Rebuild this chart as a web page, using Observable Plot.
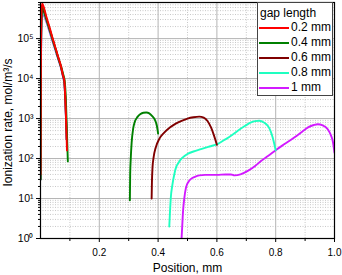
<!DOCTYPE html>
<html>
<head>
<meta charset="utf-8">
<script src="https://cdn.jsdelivr.net/npm/d3@7"></script>
<script src="https://cdn.jsdelivr.net/npm/@observablehq/plot@0.6"></script>
<style>
  html, body { margin: 0; padding: 0; background: white; }
  #wrap { position: relative; width: 342px; height: 275px; font-family: "Liberation Sans", Arial, sans-serif; }
  #legend { position: absolute; left: 257px; top: 2px; width: 76px; height: 94px; border: 1px solid #444; background: white; box-sizing: border-box; font-size: 12px; }
  #legend .title { position: absolute; left: 2px; top: 3px; }
  #legend .row { position: absolute; left: 0; height: 14px; }
  #legend .sw { position: absolute; left: 1px; top: 7px; width: 30px; height: 2px; }
  #legend .lb { position: absolute; left: 33px; top: 0; white-space: nowrap; }
</style>
</head>
<body>
<div id="wrap"><div id="legend"></div></div>
<script>
// ---- data ----
const gapLabels = ["0.2 mm", "0.4 mm", "0.6 mm", "0.8 mm", "1 mm"];
const gapColors = ["#ff0000", "#008000", "#800000", "#1effc0", "#d21aff"];

// cathode region (near x = 0)
const cathX_02 = [0, 0.001, 0.002, 0.004, 0.006, 0.01, 0.02, 0.03, 0.04, 0.05, 0.06, 0.07, 0.076, 0.081, 0.084, 0.087, 0.089, 0.09];
const cathY_02 = [40, 3e3, 1e5, 6e5, 7.5e5, 6.5e5, 3.5e5, 2e5, 1.1e5, 6.2e4, 3.5e4, 2e4, 1.26e4, 9e3, 4e3, 1e3, 300, 160];
const cathX_04 = [0, 0.001, 0.002, 0.004, 0.006, 0.01, 0.02, 0.03, 0.04, 0.05, 0.06, 0.07, 0.077, 0.082, 0.086, 0.089, 0.091, 0.093];
const cathY_04 = [30, 2e3, 8e4, 5e5, 6.5e5, 5.8e5, 3.2e5, 1.85e5, 1.05e5, 6e4, 3.4e4, 2e4, 1.3e4, 9e3, 3.5e3, 800, 250, 85];
const cathX_06 = [0, 0.001, 0.002, 0.004, 0.006, 0.01, 0.02, 0.03, 0.04, 0.05, 0.06, 0.07, 0.076, 0.081, 0.084, 0.087, 0.089];
const cathY_06 = [30, 2e3, 7e4, 4.5e5, 5.5e5, 5e5, 3e5, 1.75e5, 1e5, 5.8e4, 3.3e4, 1.9e4, 1.2e4, 8e3, 3.5e3, 900, 300];
const cathX_08 = [0, 0.001, 0.002, 0.004, 0.006, 0.01, 0.02, 0.03, 0.04, 0.05, 0.06, 0.07, 0.076, 0.081, 0.084, 0.087, 0.089];
const cathY_08 = [30, 2e3, 6e4, 3.8e5, 4.5e5, 4.3e5, 2.8e5, 1.65e5, 9.5e4, 5.5e4, 3.2e4, 1.85e4, 1.2e4, 8e3, 3.5e3, 900, 300];
const cathX_1 = [0, 0.001, 0.002, 0.004, 0.006, 0.01, 0.02, 0.03, 0.04, 0.05, 0.06, 0.07, 0.076, 0.081, 0.084, 0.087, 0.089];
const cathY_1 = [30, 2e3, 5e4, 3.3e5, 4e5, 3.9e5, 2.6e5, 1.55e5, 9e4, 5.3e4, 3.1e4, 1.8e4, 1.15e4, 7.8e3, 3.4e3, 900, 300];

// anode region humps
const anodeX_04 = [0.304, 0.305, 0.307, 0.31, 0.315, 0.32, 0.33, 0.34, 0.35, 0.36, 0.37, 0.38, 0.39, 0.396, 0.4];
const anodeY_04 = [9, 40, 100, 250, 550, 800, 1100, 1300, 1400, 1420, 1350, 1150, 900, 650, 420];
const anodeX_06 = [0.378, 0.379, 0.381, 0.385, 0.392, 0.404, 0.42, 0.44, 0.46, 0.48, 0.5, 0.52, 0.54, 0.555, 0.568, 0.58, 0.59, 0.6];
const anodeY_06 = [10, 25, 60, 110, 190, 310, 440, 600, 750, 880, 1000, 1080, 1120, 1050, 870, 600, 380, 220];
const anodeX_08 = [0.438, 0.44, 0.443, 0.449, 0.455, 0.461, 0.47, 0.478, 0.49, 0.5, 0.52, 0.546, 0.575, 0.602, 0.625, 0.648, 0.67, 0.695, 0.716, 0.73, 0.744, 0.76, 0.773, 0.783, 0.79, 0.8];
const anodeY_08 = [2, 4, 10, 23, 40, 60, 80, 97, 115, 130, 150, 172, 200, 230, 290, 370, 490, 650, 800, 860, 880, 800, 660, 480, 330, 160];
const anodeX_1 = [0.48, 0.482, 0.485, 0.489, 0.495, 0.503, 0.512, 0.525, 0.54, 0.56, 0.6, 0.63, 0.648, 0.66, 0.68, 0.705, 0.73, 0.75, 0.775, 0.8, 0.83, 0.863, 0.89, 0.91, 0.93, 0.943, 0.96, 0.977, 0.988, 0.994, 1.0];
const anodeY_1 = [1.05, 2, 5, 10, 19, 26, 31, 35, 38, 39, 39, 40, 40, 38, 40, 49, 65, 87, 118, 162, 230, 335, 470, 600, 690, 720, 680, 540, 380, 275, 140];

// axis ticks
const xMajorTicks = [0.2, 0.4, 0.6, 0.8, 1.0];
const xMinorTicks = [0.1, 0.3, 0.5, 0.7, 0.9];
const yMajorTicks = [1, 10, 100, 1000, 10000, 100000];

// ---- build table ----
const segments = [
  ["1 mm", "c", cathX_1, cathY_1], ["0.8 mm", "c", cathX_08, cathY_08], ["0.6 mm", "c", cathX_06, cathY_06],
  ["0.4 mm", "c", cathX_04, cathY_04], ["0.2 mm", "c", cathX_02, cathY_02],
  ["1 mm", "a", anodeX_1, anodeY_1], ["0.8 mm", "a", anodeX_08, anodeY_08], ["0.6 mm", "a", anodeX_06, anodeY_06],
  ["0.4 mm", "a", anodeX_04, anodeY_04]
];
const rows = segments.flatMap(([gap, part, xs, ys]) => xs.map((x, i) => ({x, y: ys[i], gap, seg: gap + part})));

const yMinorTicks = yMajorTicks.flatMap(d => [2,3,4,5,6,7,8,9].map(k => d * k)).filter(v => v <= 8e5);
const sup = {"0":"⁰","1":"¹","2":"²","3":"³","4":"⁴","5":"⁵","6":"⁶"};
const fmtY = d => "10" + String(Math.round(Math.log10(d))).split("").map(c => sup[c]).join("");

const font = '"Liberation Sans", Arial, sans-serif';
const chart = Plot.plot({
  width: 342, height: 275,
  marginLeft: 40, marginRight: 8, marginTop: 2, marginBottom: 37,
  style: {fontFamily: font, fontSize: "10px", background: "white", color: "black"},
  x: {domain: [0, 1], label: null},
  y: {type: "log", domain: [1, 8e5], label: null},
  color: {domain: gapLabels, range: gapColors},
  marks: [
    Plot.ruleY(yMinorTicks, {stroke: "#c8c8c8", strokeDasharray: "1,1.5"}),
    Plot.ruleX(xMinorTicks, {stroke: "#c8c8c8", strokeDasharray: "1,1.5"}),
    Plot.ruleY(yMajorTicks.slice(1), {stroke: "#b4b4b4"}),
    Plot.ruleX(xMajorTicks, {stroke: "#b4b4b4"}),
    Plot.line(rows, {x: "x", y: "y", z: "seg", stroke: "gap", strokeWidth: 1.9, curve: "monotone-x", clip: true}),
    Plot.frame({stroke: "black", strokeWidth: 1.2}),
    Plot.axisX({ticks: xMajorTicks, tickFormat: d => d.toFixed(1), tickSize: 4, tickPadding: 6, label: null, fontSize: 10}),
    Plot.axisX({ticks: xMinorTicks, tickFormat: () => "", tickSize: 3, label: null}),
    Plot.axisY({ticks: yMajorTicks, tickFormat: fmtY, tickSize: 4, tickPadding: 3, label: null, fontSize: 10.5}),
    Plot.axisY({ticks: yMinorTicks, tickFormat: () => "", tickSize: 2, label: null}),
    Plot.text(["Ionization rate, mol/m³/s"], {frameAnchor: "left", dx: -32, dy: 2, rotate: -90, textAnchor: "middle", lineAnchor: "middle", fontSize: 12}),
    Plot.text(["Position, mm"], {frameAnchor: "bottom", dy: 30, textAnchor: "middle", lineAnchor: "middle", fontSize: 12})
  ]
});
document.getElementById("wrap").prepend(chart);

// legend
const leg = document.getElementById("legend");
leg.innerHTML = '<div class="title">gap length</div>' + gapLabels.map((g, i) =>
  `<div class="row" style="top:${17 + i * 15}px"><div class="sw" style="background:${gapColors[i]}"></div><div class="lb">${g}</div></div>`).join("");
</script>
</body>
</html>
